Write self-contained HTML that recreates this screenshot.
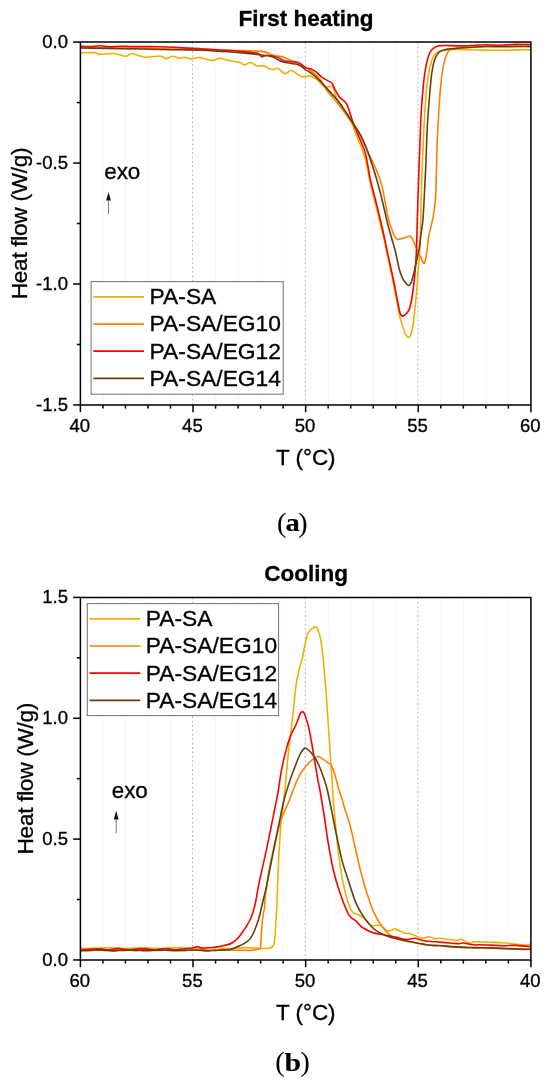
<!DOCTYPE html>
<html lang="en">
<head>
<meta charset="utf-8">
<title>DSC curves</title>
<style>
html,body{margin:0;padding:0;background:#fff;}
body{width:550px;height:1086px;overflow:hidden;}
svg{display:block;}
svg text{stroke:#000;stroke-width:0.32px;}
svg .ser text{stroke-width:0.1px;}
</style>
</head>
<body>
<svg width="550" height="1086" viewBox="0 0 550 1086" font-family="'Liberation Sans', sans-serif" fill="#000">
<rect width="550" height="1086" fill="#fff"/>
<line x1="102.93" y1="42.1" x2="102.93" y2="404.9" stroke="#f5f5f5" stroke-width="1"/>
<line x1="125.45" y1="42.1" x2="125.45" y2="404.9" stroke="#f5f5f5" stroke-width="1"/>
<line x1="147.97" y1="42.1" x2="147.97" y2="404.9" stroke="#f5f5f5" stroke-width="1"/>
<line x1="170.50" y1="42.1" x2="170.50" y2="404.9" stroke="#f5f5f5" stroke-width="1"/>
<line x1="192.62" y1="42.1" x2="192.62" y2="404.9" stroke="#b8b8b8" stroke-width="1" stroke-dasharray="2 2.4"/>
<line x1="215.55" y1="42.1" x2="215.55" y2="404.9" stroke="#f5f5f5" stroke-width="1"/>
<line x1="238.07" y1="42.1" x2="238.07" y2="404.9" stroke="#f5f5f5" stroke-width="1"/>
<line x1="260.60" y1="42.1" x2="260.60" y2="404.9" stroke="#f5f5f5" stroke-width="1"/>
<line x1="283.12" y1="42.1" x2="283.12" y2="404.9" stroke="#f5f5f5" stroke-width="1"/>
<line x1="305.25" y1="42.1" x2="305.25" y2="404.9" stroke="#b8b8b8" stroke-width="1" stroke-dasharray="2 2.4"/>
<line x1="328.17" y1="42.1" x2="328.17" y2="404.9" stroke="#f5f5f5" stroke-width="1"/>
<line x1="350.70" y1="42.1" x2="350.70" y2="404.9" stroke="#f5f5f5" stroke-width="1"/>
<line x1="373.23" y1="42.1" x2="373.23" y2="404.9" stroke="#f5f5f5" stroke-width="1"/>
<line x1="395.75" y1="42.1" x2="395.75" y2="404.9" stroke="#f5f5f5" stroke-width="1"/>
<line x1="417.88" y1="42.1" x2="417.88" y2="404.9" stroke="#b8b8b8" stroke-width="1" stroke-dasharray="2 2.4"/>
<line x1="440.80" y1="42.1" x2="440.80" y2="404.9" stroke="#f5f5f5" stroke-width="1"/>
<line x1="463.32" y1="42.1" x2="463.32" y2="404.9" stroke="#f5f5f5" stroke-width="1"/>
<line x1="485.85" y1="42.1" x2="485.85" y2="404.9" stroke="#f5f5f5" stroke-width="1"/>
<line x1="508.38" y1="42.1" x2="508.38" y2="404.9" stroke="#f5f5f5" stroke-width="1"/>
<clipPath id="ca"><rect x="80.4" y="42.1" width="450.5" height="362.8"/></clipPath>
<g clip-path="url(#ca)" fill="none" stroke-width="1.6" stroke-linejoin="round" stroke-linecap="round">
<path stroke="#F0B000" d="M80.0 52.8C82.4 52.8 91.1 52.5 94.5 52.8C97.9 53.1 97.2 54.4 100.4 54.5C103.6 54.6 109.3 53.2 113.5 53.5C117.7 53.8 122.8 56.3 125.8 56.3C128.8 56.3 128.3 53.4 131.6 53.5C134.9 53.6 140.8 56.8 145.5 57.2C150.2 57.6 156.6 55.8 160.0 56.0C163.4 56.2 163.7 58.6 165.8 58.6C167.9 58.6 170.2 56.4 172.4 56.3C174.6 56.2 177.0 58.1 178.9 58.2C180.8 58.4 181.9 57.1 184.0 57.2C186.1 57.3 188.8 58.9 191.3 58.9C193.9 58.9 195.8 57.2 199.3 57.5C202.8 57.8 209.0 60.3 212.4 60.4C215.8 60.5 216.9 58.2 219.6 58.2C222.3 58.2 225.0 59.7 228.4 60.4C231.8 61.1 237.3 61.7 240.0 62.5C242.7 63.3 242.7 65.0 244.4 65.0C246.1 65.0 248.1 62.4 250.2 62.5C252.2 62.6 254.5 65.3 256.7 65.9C258.9 66.5 260.8 65.3 263.3 65.9C265.9 66.5 269.6 69.1 272.0 69.5C274.4 69.9 275.6 67.7 277.8 68.4C280.0 69.1 282.8 73.4 285.1 73.7C287.4 74.0 288.9 70.0 291.6 70.5C294.3 71.0 298.1 75.5 301.1 76.4C304.1 77.3 307.4 75.8 309.8 76.1C312.2 76.4 314.1 77.7 315.6 78.5C317.1 79.3 317.2 79.7 318.7 81.1C320.2 82.5 322.2 86.0 324.5 86.9C326.8 87.8 330.7 86.1 332.2 86.3C333.7 86.5 333.1 87.2 333.5 88.2C333.9 89.2 334.4 90.9 334.8 92.5C335.2 94.1 335.5 96.1 336.2 97.8C336.9 99.5 337.6 100.4 339.1 102.6C340.6 104.8 343.1 108.2 345.0 111.2C346.9 114.2 348.8 116.3 350.7 120.4C352.6 124.5 354.6 130.6 356.5 135.6C358.4 140.6 360.7 145.3 362.4 150.2C364.1 155.0 365.5 159.7 366.7 164.7C367.9 169.7 368.3 174.2 369.6 180.0C370.9 185.8 372.5 191.6 374.4 199.5C376.3 207.4 379.5 220.9 381.1 227.3C382.7 233.7 382.8 233.4 383.8 238.0C384.8 242.6 386.1 249.2 387.3 255.0C388.6 260.8 389.6 264.9 391.3 273.0C393.0 281.1 395.8 295.7 397.3 303.4C398.8 311.1 399.2 314.5 400.5 319.4C401.8 324.2 403.8 329.7 404.9 332.5C405.9 335.3 406.2 335.2 406.8 336.0C407.4 336.8 407.9 337.5 408.5 337.5C409.1 337.5 409.6 336.8 410.1 336.0C410.6 335.2 410.9 335.0 411.5 332.5C412.1 330.0 412.9 326.1 413.6 320.8C414.3 315.5 415.2 306.8 415.8 300.5C416.4 294.2 416.8 289.1 417.3 283.0C417.8 276.9 418.2 270.9 418.7 264.1C419.2 257.3 419.8 253.0 420.2 242.3C420.6 231.6 420.9 211.1 421.2 200.0C421.5 188.9 421.6 185.2 421.9 176.0C422.2 166.8 422.8 155.1 423.2 145.1C423.6 135.1 424.0 125.7 424.6 116.0C425.2 106.3 426.0 94.9 426.8 86.9C427.6 78.9 428.6 73.1 429.7 68.0C430.8 62.9 432.1 59.1 433.4 56.4C434.7 53.7 435.9 53.0 437.7 52.0C439.5 51.0 441.3 50.7 444.3 50.3C447.3 49.9 451.5 49.5 455.9 49.4C460.3 49.3 465.6 49.7 470.5 49.8C475.4 49.9 480.1 50.0 485.0 50.1C489.9 50.2 495.0 50.3 500.0 50.3C505.0 50.3 509.8 50.0 515.0 49.9C520.2 49.8 528.3 49.8 531.0 49.8"/>
<path stroke="#FF8000" d="M80.0 47.4C86.7 47.5 106.7 47.8 120.0 48.0C133.3 48.2 146.7 48.3 160.0 48.6C173.3 48.9 190.0 49.3 200.0 49.6C210.0 49.9 213.3 50.1 220.0 50.2C226.7 50.4 232.8 50.3 240.0 50.5C247.2 50.7 257.7 50.8 263.3 51.6C268.9 52.4 270.1 54.4 273.5 55.3C276.9 56.2 280.5 56.2 283.6 57.2C286.8 58.2 289.7 59.8 292.4 61.0C295.1 62.2 297.3 63.2 300.0 64.5C302.7 65.8 305.1 66.5 308.4 69.0C311.7 71.5 316.8 75.6 320.0 79.3C323.2 83.0 324.3 87.0 327.5 91.3C330.7 95.6 335.2 100.1 339.1 105.1C343.0 110.1 347.1 115.8 350.7 121.1C354.3 126.4 357.5 130.8 360.9 137.1C364.3 143.4 368.5 153.4 371.1 158.9C373.7 164.4 374.5 165.4 376.3 170.0C378.1 174.6 380.1 178.8 382.0 186.4C383.9 194.0 386.2 209.0 387.7 215.8C389.2 222.6 389.9 223.7 391.0 227.0C392.1 230.3 393.2 233.4 394.3 235.5C395.4 237.6 395.9 239.1 397.5 239.5C399.1 239.9 402.1 238.4 404.1 237.9C406.2 237.4 408.4 236.2 409.8 236.3C411.2 236.4 411.2 236.7 412.3 238.7C413.4 240.7 415.0 245.5 416.4 248.5C417.8 251.5 419.5 254.6 420.5 256.7C421.5 258.8 421.8 260.1 422.4 261.2C423.0 262.3 423.7 264.1 424.3 263.4C424.9 262.7 425.5 259.6 426.0 256.8C426.5 254.0 427.0 250.2 427.5 246.6C428.0 243.0 428.0 239.6 428.9 235.0C429.8 230.4 431.6 224.9 432.7 219.1C433.8 213.3 434.8 206.5 435.4 200.0C436.0 193.5 435.9 188.7 436.2 180.0C436.5 171.3 436.6 158.7 437.0 148.0C437.4 137.3 437.9 126.2 438.5 116.0C439.1 105.8 439.8 95.4 440.6 86.9C441.4 78.4 442.4 70.7 443.5 65.1C444.6 59.5 445.9 56.2 447.2 53.5C448.5 50.8 448.8 50.0 451.5 49.1C454.2 48.2 457.6 48.3 463.2 47.9C468.8 47.5 478.9 46.8 485.0 46.5C491.1 46.2 495.0 46.0 500.0 46.0C505.0 46.0 509.8 46.4 515.0 46.4C520.2 46.4 528.3 46.2 531.0 46.2"/>
<path stroke="#FF0000" d="M80.0 46.1C81.7 46.2 86.7 46.7 90.0 46.6C93.3 46.5 96.7 45.8 100.0 45.8C103.3 45.8 106.7 46.7 110.0 46.8C113.3 46.9 115.8 46.2 120.0 46.2C124.2 46.2 128.3 46.5 135.0 46.6C141.7 46.7 152.5 46.5 160.0 46.7C167.5 46.9 173.3 47.3 180.0 47.6C186.7 47.9 193.3 48.3 200.0 48.7C206.7 49.1 213.3 49.6 220.0 50.0C226.7 50.4 233.8 50.7 240.0 51.3C246.2 51.9 253.9 52.5 257.5 53.4C261.1 54.3 260.1 56.4 261.8 56.7C263.5 57.0 264.9 55.2 267.6 55.3C270.3 55.4 274.9 56.5 277.8 57.5C280.7 58.5 281.6 60.2 285.0 61.0C288.4 61.8 294.8 61.4 298.2 62.5C301.6 63.6 303.3 66.5 305.5 67.6C307.7 68.7 309.6 68.4 311.3 69.1C313.0 69.8 313.8 70.1 315.8 71.6C317.8 73.1 320.4 76.3 323.1 78.2C325.8 80.1 330.0 81.4 331.8 83.0C333.6 84.6 332.8 85.4 334.0 87.6C335.2 89.8 337.0 93.7 339.1 96.4C341.2 99.1 344.5 100.4 346.4 103.6C348.3 106.8 349.5 111.9 350.7 115.3C351.9 118.7 351.9 119.6 353.6 124.0C355.3 128.4 358.9 136.7 360.9 141.5C362.8 146.3 364.1 148.8 365.3 153.1C366.5 157.4 367.4 163.1 368.2 167.6C369.0 172.1 369.2 174.7 370.4 180.0C371.6 185.3 373.4 191.6 375.4 199.5C377.3 207.4 379.9 217.8 382.1 227.3C384.3 236.9 386.4 247.5 388.4 256.8C390.4 266.1 392.6 275.7 394.1 283.0C395.6 290.3 396.4 295.6 397.4 300.5C398.3 305.4 399.2 309.7 399.8 312.1C400.4 314.5 400.6 314.3 401.0 315.0C401.4 315.7 401.8 316.1 402.3 316.2C402.9 316.2 403.6 315.8 404.3 315.3C405.0 314.9 405.6 314.5 406.4 313.5C407.2 312.5 408.4 311.4 409.3 309.2C410.2 307.0 410.8 304.4 411.5 300.5C412.2 296.6 413.0 290.8 413.6 285.9C414.2 281.0 414.6 277.5 415.1 271.4C415.6 265.3 416.1 258.2 416.5 249.5C416.9 240.8 416.9 231.2 417.3 219.0C417.7 206.8 418.3 187.1 418.7 176.0C419.1 164.9 419.2 162.4 419.6 152.4C420.0 142.4 420.4 126.9 421.0 116.0C421.6 105.1 422.5 94.7 423.2 86.9C423.9 79.2 424.5 74.6 425.4 69.5C426.2 64.4 427.2 59.7 428.3 56.4C429.4 53.1 430.4 51.5 431.9 49.8C433.3 48.1 434.9 46.9 437.0 46.2C439.1 45.5 439.9 45.5 444.3 45.5C448.7 45.5 456.4 46.0 463.2 45.9C470.0 45.8 478.9 44.8 485.0 44.7C491.1 44.6 495.0 45.4 500.0 45.3C505.0 45.2 509.8 44.4 515.0 44.3C520.2 44.2 528.3 44.5 531.0 44.6"/>
<path stroke="#64400F" d="M80.0 48.0C86.7 48.1 106.7 48.4 120.0 48.6C133.3 48.9 146.7 49.2 160.0 49.5C173.3 49.8 186.7 49.7 200.0 50.2C213.3 50.7 230.4 51.9 240.0 52.6C249.6 53.3 252.2 53.8 257.5 54.5C262.8 55.2 267.9 55.5 272.0 56.7C276.1 57.9 277.8 60.5 282.2 61.8C286.6 63.1 294.3 63.4 298.2 64.7C302.1 66.0 303.5 68.5 305.5 69.8C307.5 71.1 307.8 70.8 310.0 72.4C312.2 74.0 315.8 76.8 318.7 79.6C321.6 82.4 324.1 85.3 327.5 89.1C330.9 92.9 335.2 97.1 339.1 102.2C343.0 107.3 347.1 114.0 350.7 119.6C354.3 125.2 358.0 130.0 360.9 135.6C363.8 141.2 366.0 147.3 368.2 153.1C370.4 158.9 372.1 164.4 374.0 170.5C375.9 176.6 377.8 183.3 379.5 189.6C381.2 195.8 382.6 202.3 384.0 208.0C385.4 213.7 386.5 219.3 387.7 224.0C388.9 228.7 389.7 231.5 391.0 236.0C392.3 240.5 393.9 245.6 395.3 251.0C396.7 256.4 397.9 263.9 399.1 268.5C400.3 273.1 401.5 276.1 402.7 278.6C403.9 281.1 405.4 282.6 406.4 283.7C407.4 284.8 407.9 285.4 408.5 285.5C409.1 285.6 409.5 285.2 410.0 284.5C410.5 283.8 410.9 283.2 411.5 281.5C412.1 279.8 412.8 277.7 413.6 274.3C414.4 270.9 415.5 265.8 416.5 261.2C417.5 256.6 418.8 251.0 419.5 246.6C420.2 242.2 420.3 239.6 420.9 235.0C421.5 230.4 422.4 226.5 423.0 219.0C423.6 211.5 424.2 197.8 424.6 190.0C425.0 182.2 425.2 178.3 425.5 172.0C425.8 165.7 426.0 160.5 426.3 152.4C426.6 144.3 426.9 133.0 427.5 123.3C428.1 113.6 429.0 102.7 429.7 94.2C430.4 85.7 431.0 78.2 431.9 72.4C432.8 66.6 433.6 62.7 434.8 59.3C436.0 55.9 437.4 53.6 439.2 52.0C441.0 50.4 442.9 50.0 445.7 49.4C448.5 48.8 451.8 48.8 455.9 48.4C460.0 48.0 465.6 47.6 470.5 47.3C475.4 47.0 480.1 46.6 485.0 46.5C489.9 46.4 495.0 46.8 500.0 46.8C505.0 46.8 509.8 46.4 515.0 46.4C520.2 46.4 528.3 46.6 531.0 46.6"/>
</g>
<rect x="91.1" y="281.6" width="192.1" height="112.6" fill="#fff" stroke="#707070" stroke-width="1"/>
<line x1="93.4" y1="296.9" x2="144.1" y2="296.9" stroke="#F0B000" stroke-width="1.7"/>
<text x="149.6" y="304.3" font-size="22.8">PA-SA</text>
<line x1="93.4" y1="324.1" x2="144.1" y2="324.1" stroke="#FF8000" stroke-width="1.7"/>
<text x="149.6" y="331.4" font-size="22.8">PA-SA/EG10</text>
<line x1="93.4" y1="351.2" x2="144.1" y2="351.2" stroke="#FF0000" stroke-width="1.7"/>
<text x="149.6" y="358.6" font-size="22.8">PA-SA/EG12</text>
<line x1="93.4" y1="378.4" x2="144.1" y2="378.4" stroke="#64400F" stroke-width="1.7"/>
<text x="149.6" y="385.8" font-size="22.8">PA-SA/EG14</text>
<path d="M80.4 42.1 H530.9 V404.9 H80.4 Z" fill="none" stroke="#000" stroke-width="1.5"/>
<line x1="80.40" y1="404.9" x2="80.40" y2="412.2" stroke="#000" stroke-width="1.5"/>
<line x1="102.93" y1="404.9" x2="102.93" y2="408.6" stroke="#000" stroke-width="1.5"/>
<line x1="125.45" y1="404.9" x2="125.45" y2="408.6" stroke="#000" stroke-width="1.5"/>
<line x1="147.97" y1="404.9" x2="147.97" y2="408.6" stroke="#000" stroke-width="1.5"/>
<line x1="170.50" y1="404.9" x2="170.50" y2="408.6" stroke="#000" stroke-width="1.5"/>
<line x1="193.03" y1="404.9" x2="193.03" y2="412.2" stroke="#000" stroke-width="1.5"/>
<line x1="215.55" y1="404.9" x2="215.55" y2="408.6" stroke="#000" stroke-width="1.5"/>
<line x1="238.07" y1="404.9" x2="238.07" y2="408.6" stroke="#000" stroke-width="1.5"/>
<line x1="260.60" y1="404.9" x2="260.60" y2="408.6" stroke="#000" stroke-width="1.5"/>
<line x1="283.12" y1="404.9" x2="283.12" y2="408.6" stroke="#000" stroke-width="1.5"/>
<line x1="305.65" y1="404.9" x2="305.65" y2="412.2" stroke="#000" stroke-width="1.5"/>
<line x1="328.17" y1="404.9" x2="328.17" y2="408.6" stroke="#000" stroke-width="1.5"/>
<line x1="350.70" y1="404.9" x2="350.70" y2="408.6" stroke="#000" stroke-width="1.5"/>
<line x1="373.23" y1="404.9" x2="373.23" y2="408.6" stroke="#000" stroke-width="1.5"/>
<line x1="395.75" y1="404.9" x2="395.75" y2="408.6" stroke="#000" stroke-width="1.5"/>
<line x1="418.27" y1="404.9" x2="418.27" y2="412.2" stroke="#000" stroke-width="1.5"/>
<line x1="440.80" y1="404.9" x2="440.80" y2="408.6" stroke="#000" stroke-width="1.5"/>
<line x1="463.32" y1="404.9" x2="463.32" y2="408.6" stroke="#000" stroke-width="1.5"/>
<line x1="485.85" y1="404.9" x2="485.85" y2="408.6" stroke="#000" stroke-width="1.5"/>
<line x1="508.38" y1="404.9" x2="508.38" y2="408.6" stroke="#000" stroke-width="1.5"/>
<line x1="530.90" y1="404.9" x2="530.90" y2="412.2" stroke="#000" stroke-width="1.5"/>
<text x="79.8" y="431.8" font-size="18.5" text-anchor="middle">40</text>
<text x="192.4" y="431.8" font-size="18.5" text-anchor="middle">45</text>
<text x="305.0" y="431.8" font-size="18.5" text-anchor="middle">50</text>
<text x="417.6" y="431.8" font-size="18.5" text-anchor="middle">55</text>
<text x="530.2" y="431.8" font-size="18.5" text-anchor="middle">60</text>
<line x1="73.1" y1="42.10" x2="80.4" y2="42.10" stroke="#000" stroke-width="1.5"/>
<line x1="76.8" y1="102.57" x2="80.4" y2="102.57" stroke="#000" stroke-width="1.5"/>
<line x1="73.1" y1="163.05" x2="80.4" y2="163.05" stroke="#000" stroke-width="1.5"/>
<line x1="76.8" y1="223.52" x2="80.4" y2="223.52" stroke="#000" stroke-width="1.5"/>
<line x1="73.1" y1="284.00" x2="80.4" y2="284.00" stroke="#000" stroke-width="1.5"/>
<line x1="76.8" y1="344.48" x2="80.4" y2="344.48" stroke="#000" stroke-width="1.5"/>
<line x1="73.1" y1="404.95" x2="80.4" y2="404.95" stroke="#000" stroke-width="1.5"/>
<text x="68.0" y="48.1" font-size="18.5" text-anchor="end">0.0</text>
<text x="68.0" y="169.0" font-size="18.5" text-anchor="end">-0.5</text>
<text x="68.0" y="290.0" font-size="18.5" text-anchor="end">-1.0</text>
<text x="68.0" y="410.9" font-size="18.5" text-anchor="end">-1.5</text>
<text x="306.1" y="25.8" font-size="22.5" font-weight="bold" text-anchor="middle">First heating</text>
<text x="305.8" y="465.1" font-size="22.4" text-anchor="middle">T (°C)</text>
<text transform="translate(27.3 223.5) rotate(-90)" font-size="22.7" letter-spacing="-0.32" text-anchor="middle">Heat flow (W/g)</text>
<text x="104.2" y="178.8" font-size="22.4">exo</text>
<line x1="108.5" y1="200.5" x2="108.5" y2="214.0" stroke="#444" stroke-width="0.7"/>
<path d="M108.5 191.9 L106.1 200.5 L110.9 200.5 Z" fill="#111"/>
<line x1="102.93" y1="597.4" x2="102.93" y2="960.0" stroke="#f5f5f5" stroke-width="1"/>
<line x1="125.45" y1="597.4" x2="125.45" y2="960.0" stroke="#f5f5f5" stroke-width="1"/>
<line x1="147.97" y1="597.4" x2="147.97" y2="960.0" stroke="#f5f5f5" stroke-width="1"/>
<line x1="170.50" y1="597.4" x2="170.50" y2="960.0" stroke="#f5f5f5" stroke-width="1"/>
<line x1="192.62" y1="597.4" x2="192.62" y2="960.0" stroke="#b8b8b8" stroke-width="1" stroke-dasharray="2 2.4"/>
<line x1="215.55" y1="597.4" x2="215.55" y2="960.0" stroke="#f5f5f5" stroke-width="1"/>
<line x1="238.07" y1="597.4" x2="238.07" y2="960.0" stroke="#f5f5f5" stroke-width="1"/>
<line x1="260.60" y1="597.4" x2="260.60" y2="960.0" stroke="#f5f5f5" stroke-width="1"/>
<line x1="283.12" y1="597.4" x2="283.12" y2="960.0" stroke="#f5f5f5" stroke-width="1"/>
<line x1="305.25" y1="597.4" x2="305.25" y2="960.0" stroke="#b8b8b8" stroke-width="1" stroke-dasharray="2 2.4"/>
<line x1="328.17" y1="597.4" x2="328.17" y2="960.0" stroke="#f5f5f5" stroke-width="1"/>
<line x1="350.70" y1="597.4" x2="350.70" y2="960.0" stroke="#f5f5f5" stroke-width="1"/>
<line x1="373.23" y1="597.4" x2="373.23" y2="960.0" stroke="#f5f5f5" stroke-width="1"/>
<line x1="395.75" y1="597.4" x2="395.75" y2="960.0" stroke="#f5f5f5" stroke-width="1"/>
<line x1="417.88" y1="597.4" x2="417.88" y2="960.0" stroke="#b8b8b8" stroke-width="1" stroke-dasharray="2 2.4"/>
<line x1="440.80" y1="597.4" x2="440.80" y2="960.0" stroke="#f5f5f5" stroke-width="1"/>
<line x1="463.32" y1="597.4" x2="463.32" y2="960.0" stroke="#f5f5f5" stroke-width="1"/>
<line x1="485.85" y1="597.4" x2="485.85" y2="960.0" stroke="#f5f5f5" stroke-width="1"/>
<line x1="508.38" y1="597.4" x2="508.38" y2="960.0" stroke="#f5f5f5" stroke-width="1"/>
<clipPath id="cb"><rect x="80.4" y="597.4" width="450.5" height="362.6"/></clipPath>
<g clip-path="url(#cb)" fill="none" stroke-width="1.6" stroke-linejoin="round" stroke-linecap="round">
<path stroke="#F0B000" d="M80.4 948.1C81.3 948.2 84.1 948.5 85.9 948.5C87.7 948.5 89.6 948.3 91.4 948.3C93.2 948.3 95.1 948.4 96.9 948.3C98.7 948.2 100.6 947.8 102.4 947.7C104.2 947.6 106.1 947.8 107.9 947.8C109.7 947.8 111.6 947.8 113.4 947.9C115.2 948.0 117.1 948.2 118.9 948.3C120.7 948.4 122.6 948.6 124.4 948.6C126.2 948.6 128.1 948.3 129.9 948.2C131.7 948.1 133.6 948.2 135.4 948.1C137.2 948.0 139.1 947.6 140.9 947.6C142.7 947.6 144.6 947.8 146.4 947.9C148.2 948.0 150.1 948.1 151.9 948.2C153.7 948.3 155.6 948.4 157.4 948.4C159.2 948.4 161.1 948.6 162.9 948.5C164.7 948.4 166.6 948.0 168.4 947.9C170.2 947.8 172.1 947.9 173.9 947.9C175.7 947.9 177.6 947.6 179.4 947.6C181.2 947.6 183.1 948.0 184.9 948.1C186.7 948.2 188.6 948.4 190.4 948.4C192.2 948.4 194.1 948.4 195.9 948.4C197.7 948.4 199.6 948.4 201.4 948.3C203.2 948.2 205.1 947.8 206.9 947.7C208.7 947.6 210.6 947.9 212.4 947.9C214.2 947.9 216.1 947.7 217.9 947.8C219.7 947.9 221.6 948.2 223.4 948.3C225.2 948.4 227.1 948.5 228.9 948.5C230.7 948.5 232.6 948.3 234.4 948.2C236.2 948.1 238.1 948.2 239.9 948.1C241.7 948.0 243.6 947.6 245.4 947.6C247.2 947.6 249.1 947.8 250.9 947.9C252.7 948.0 254.6 948.0 256.4 948.1C258.2 948.2 260.0 948.5 261.9 948.5C263.8 948.5 266.3 948.6 268.0 948.4C269.7 948.1 271.0 947.7 272.0 947.0C273.0 946.3 273.5 945.8 274.0 944.0C274.5 942.2 274.7 940.0 275.0 936.0C275.3 932.0 275.7 925.7 276.0 920.0C276.3 914.3 276.8 907.3 277.0 902.0C277.2 896.7 277.2 896.0 277.5 888.2C277.8 880.5 278.3 865.9 278.9 855.5C279.4 845.1 280.1 834.7 280.8 826.0C281.5 817.3 282.6 809.1 283.3 803.1C284.0 797.1 284.1 797.6 284.9 790.0C285.7 782.4 286.8 767.4 287.9 757.3C288.9 747.2 290.3 737.4 291.2 729.5C292.1 721.6 292.6 717.2 293.4 710.0C294.2 702.8 294.9 693.1 295.9 686.4C296.8 679.7 298.0 674.5 299.1 669.8C300.2 665.1 301.4 662.4 302.3 658.4C303.2 654.4 304.0 649.5 304.8 645.6C305.6 641.7 306.4 637.4 307.4 634.8C308.3 632.1 309.4 630.9 310.5 629.7C311.6 628.5 312.8 628.1 313.7 627.6C314.6 627.1 315.1 626.8 315.6 626.9C316.2 627.0 316.6 627.4 317.0 628.0C317.4 628.6 317.7 628.9 318.2 630.4C318.7 631.9 319.5 633.7 320.1 636.7C320.7 639.7 321.4 643.1 322.0 648.2C322.6 653.3 323.3 660.5 323.9 667.3C324.5 674.1 325.2 681.8 325.8 688.9C326.4 696.0 326.8 702.7 327.3 710.0C327.8 717.3 328.3 724.8 328.8 732.7C329.3 740.6 329.9 749.1 330.5 757.3C331.1 765.5 331.7 774.7 332.1 781.8C332.6 788.9 332.9 795.9 333.2 800.0C333.5 804.1 333.3 801.0 333.8 806.4C334.3 811.8 335.5 824.3 336.3 832.5C337.1 840.7 337.6 847.3 338.7 855.5C339.8 863.7 341.3 874.0 342.8 881.6C344.3 889.2 346.1 896.2 347.7 901.3C349.3 906.3 350.7 909.6 352.6 911.9C354.5 914.2 357.0 914.0 359.2 915.2C361.4 916.4 363.6 917.6 365.7 919.3C367.8 921.0 369.0 924.5 371.5 925.5C374.0 926.5 377.8 924.6 380.5 925.5C383.2 926.4 385.4 930.5 387.8 931.1C390.2 931.7 392.3 928.7 395.2 929.1C398.1 929.5 402.8 932.7 405.2 933.4C407.6 934.1 406.6 932.6 409.5 933.4C412.4 934.2 419.4 937.7 422.6 938.2C425.8 938.8 426.3 936.6 428.5 936.7C430.7 936.8 433.8 938.6 435.7 938.9C437.6 939.1 436.7 938.0 440.1 938.2C443.5 938.5 452.6 940.2 456.1 940.4C459.6 940.6 459.0 938.9 461.2 939.3C463.4 939.7 466.9 942.6 469.2 943.0C471.5 943.4 471.4 941.9 475.0 941.8C478.6 941.7 485.8 942.0 490.5 942.2C495.2 942.4 499.0 942.4 503.2 942.8C507.4 943.1 511.9 943.9 515.9 944.3C519.9 944.7 524.9 945.2 527.4 945.1C529.9 945.0 530.4 943.8 531.0 943.5"/>
<path stroke="#FF8000" d="M80.4 950.2C81.3 950.2 84.1 950.2 85.9 950.1C87.7 950.0 89.6 949.4 91.4 949.4C93.2 949.4 95.1 949.9 96.9 950.0C98.7 950.1 100.6 950.1 102.4 950.2C104.2 950.3 106.1 950.5 107.9 950.4C109.7 950.3 111.6 950.0 113.4 949.9C115.2 949.8 117.1 949.6 118.9 949.6C120.7 949.6 122.6 949.8 124.4 949.9C126.2 950.0 128.1 950.1 129.9 950.2C131.7 950.3 133.6 950.6 135.4 950.5C137.2 950.4 139.1 949.8 140.9 949.7C142.7 949.6 144.6 949.8 146.4 949.8C148.2 949.8 150.1 949.7 151.9 949.8C153.7 949.9 155.6 950.4 157.4 950.5C159.2 950.6 161.1 950.3 162.9 950.2C164.7 950.1 166.6 949.9 168.4 949.8C170.2 949.7 172.1 949.6 173.9 949.6C175.7 949.6 177.6 949.8 179.4 949.9C181.2 950.0 183.1 950.5 184.9 950.5C186.7 950.5 188.6 950.2 190.4 950.1C192.2 950.0 194.1 950.0 195.9 949.9C197.7 949.8 199.6 949.5 201.4 949.5C203.2 949.5 205.1 950.0 206.9 950.1C208.7 950.2 210.6 950.3 212.4 950.3C214.2 950.3 216.1 950.4 217.9 950.3C219.7 950.2 221.6 949.8 223.4 949.7C225.2 949.6 227.1 949.5 228.9 949.6C230.7 949.7 232.6 950.0 234.4 950.1C236.2 950.2 238.1 950.3 239.9 950.3C241.7 950.3 243.7 950.3 245.4 950.3C247.1 950.3 247.7 950.6 250.0 950.4C252.3 950.2 257.2 949.7 259.0 949.0C260.8 948.3 260.2 949.2 260.6 946.0C261.0 942.8 261.2 935.0 261.6 930.0C262.0 925.0 262.5 919.7 263.0 916.0C263.5 912.3 264.1 911.3 264.5 908.0C264.9 904.7 264.5 903.0 265.3 896.4C266.1 889.8 267.9 877.0 269.4 868.5C270.9 860.0 272.7 852.7 274.3 845.6C275.9 838.5 277.8 830.9 279.2 826.0C280.6 821.1 281.1 819.8 282.5 816.2C283.9 812.7 286.2 807.4 287.4 804.7C288.6 802.0 288.3 803.0 289.5 800.0C290.7 797.0 292.9 790.8 294.5 786.7C296.1 782.6 297.5 778.7 299.4 775.3C301.3 771.9 303.7 768.9 305.9 766.3C308.1 763.7 310.6 761.3 312.5 759.7C314.4 758.1 315.9 756.8 317.4 756.5C318.9 756.2 319.9 757.1 321.5 758.1C323.1 759.1 325.6 761.0 327.2 762.2C328.8 763.4 330.1 763.6 331.3 765.5C332.5 767.4 333.3 769.8 334.5 773.6C335.7 777.4 337.3 784.0 338.6 788.4C339.9 792.8 341.3 796.7 342.3 800.0C343.3 803.3 343.2 803.7 344.5 808.0C345.8 812.3 348.4 819.5 350.2 826.0C352.0 832.5 353.3 839.7 355.1 847.3C356.9 854.9 358.8 863.9 360.8 871.8C362.9 879.7 365.2 887.9 367.4 894.7C369.6 901.5 371.7 907.8 373.9 912.7C376.1 917.6 378.1 920.7 380.5 924.2C382.9 927.8 385.9 931.5 388.6 934.0C391.3 936.5 394.1 937.8 396.8 938.9C399.5 940.0 402.9 940.4 405.0 940.9C407.1 941.4 405.6 941.1 409.5 941.8C413.4 942.5 423.6 944.6 428.5 945.3C433.4 946.0 434.0 945.5 438.6 945.8C443.2 946.1 450.0 946.9 456.1 947.2C462.2 947.6 469.3 947.7 475.0 947.9C480.7 948.1 483.7 948.0 490.5 948.2C497.3 948.4 509.1 949.0 515.9 949.2C522.6 949.4 528.5 949.5 531.0 949.5"/>
<path stroke="#FF0000" d="M80.4 949.7C81.3 949.7 84.1 949.6 85.9 949.5C87.7 949.4 89.6 949.1 91.4 949.0C93.2 948.9 95.1 948.8 96.9 948.8C98.7 948.8 100.6 948.9 102.4 949.1C104.2 949.3 106.1 949.9 107.9 949.9C109.7 949.9 111.6 949.5 113.4 949.2C115.2 949.0 117.1 948.4 118.9 948.4C120.7 948.4 122.6 949.2 124.4 949.4C126.2 949.6 128.1 949.8 129.9 949.8C131.7 949.8 133.6 949.2 135.4 949.1C137.2 949.0 139.1 948.9 140.9 948.9C142.7 948.9 144.6 948.8 146.4 948.9C148.2 949.0 150.1 949.6 151.9 949.7C153.7 949.8 155.6 949.9 157.4 949.7C159.2 949.5 161.1 948.6 162.9 948.5C164.7 948.4 166.6 948.7 168.4 948.9C170.2 949.1 172.1 949.8 173.9 949.9C175.7 950.0 177.6 949.6 179.4 949.4C181.2 949.2 183.8 949.0 184.9 948.9C186.0 948.8 184.8 948.8 186.0 948.6C187.2 948.5 190.0 948.3 192.0 948.0C194.0 947.7 196.3 946.6 198.0 946.6C199.7 946.6 199.0 947.9 202.0 948.0C205.0 948.1 212.0 947.5 216.0 947.0C220.0 946.5 223.3 945.7 226.0 945.0C228.7 944.3 230.0 944.2 232.0 943.0C234.0 941.8 236.0 940.2 238.0 938.0C240.0 935.8 242.0 933.0 244.0 930.0C246.0 927.0 248.5 923.0 250.0 920.0C251.5 917.0 252.1 915.0 253.0 912.0C253.9 909.0 254.7 906.5 255.6 902.0C256.6 897.5 257.2 892.1 258.7 884.9C260.2 877.7 262.4 868.2 264.5 858.7C266.6 849.2 269.1 836.9 271.0 827.6C272.9 818.3 274.7 809.4 275.9 803.1C277.1 796.8 277.5 795.5 278.4 790.0C279.3 784.5 280.1 777.2 281.4 770.4C282.7 763.6 284.7 755.1 286.3 749.1C287.9 743.1 289.6 738.5 291.2 734.4C292.8 730.3 294.6 727.9 296.1 724.5C297.6 721.1 299.3 715.9 300.2 713.9C301.1 711.9 300.9 712.6 301.3 712.2C301.7 711.8 301.9 711.5 302.3 711.5C302.7 711.5 303.1 711.8 303.6 712.5C304.1 713.2 304.3 713.2 305.1 715.5C305.9 717.8 307.3 721.7 308.4 726.2C309.5 730.7 310.5 736.5 311.6 742.5C312.7 748.5 313.8 755.7 314.9 762.2C316.0 768.8 317.4 777.2 318.2 781.8C319.0 786.4 318.9 784.5 319.9 790.0C320.9 795.5 322.6 805.8 324.0 814.5C325.4 823.2 326.6 833.4 328.1 842.4C329.6 851.4 331.1 860.3 333.0 868.5C334.9 876.7 336.9 883.9 339.5 891.5C342.1 899.1 345.8 909.5 348.5 914.4C351.2 919.3 353.6 918.7 355.9 920.9C358.2 923.1 359.8 925.6 362.5 927.5C365.2 929.4 368.8 931.2 372.3 932.4C375.8 933.6 379.6 934.0 383.7 934.8C387.8 935.6 393.1 936.5 396.8 937.3C400.5 938.1 402.9 939.5 405.9 939.6C408.9 939.8 411.6 938.0 414.6 938.2C417.6 938.4 420.6 940.1 424.1 940.7C427.6 941.3 431.3 941.4 435.7 941.8C440.1 942.2 446.4 942.7 450.3 943.0C454.2 943.3 456.9 943.7 459.0 943.7C461.1 943.7 459.9 942.8 462.6 943.0C465.3 943.2 472.5 944.7 475.0 945.0C477.5 945.3 475.1 944.7 477.7 944.7C480.3 944.7 486.2 944.9 490.5 945.1C494.8 945.3 499.0 945.7 503.2 945.7C507.4 945.8 511.3 945.2 515.9 945.4C520.5 945.6 528.5 946.6 531.0 946.9"/>
<path stroke="#64400F" d="M80.4 950.8C81.3 950.8 84.1 950.6 85.9 950.6C87.7 950.6 89.6 950.6 91.4 950.5C93.2 950.4 95.1 949.9 96.9 949.9C98.7 949.9 100.6 950.2 102.4 950.3C104.2 950.4 106.1 950.3 107.9 950.4C109.7 950.5 111.6 950.9 113.4 950.9C115.2 950.9 117.1 950.6 118.9 950.5C120.7 950.4 122.6 950.5 124.4 950.4C126.2 950.3 128.1 949.9 129.9 949.9C131.7 949.9 133.6 950.3 135.4 950.4C137.2 950.5 139.1 950.4 140.9 950.5C142.7 950.6 144.6 950.8 146.4 950.8C148.2 950.8 150.1 950.5 151.9 950.4C153.7 950.3 155.6 950.2 157.4 950.2C159.2 950.2 161.1 950.1 162.9 950.1C164.7 950.1 166.6 950.3 168.4 950.4C170.2 950.5 172.1 950.7 173.9 950.7C175.7 950.7 177.6 950.7 179.4 950.6C181.2 950.5 183.1 950.5 184.9 950.4C186.7 950.3 188.6 950.0 190.4 950.0C192.2 950.0 194.1 950.1 195.9 950.2C197.7 950.3 199.6 950.3 201.4 950.4C203.2 950.5 205.1 950.9 206.9 950.9C208.7 950.9 210.6 950.6 212.4 950.5C214.2 950.4 216.1 950.4 217.9 950.3C219.7 950.2 221.4 950.0 223.4 949.9C225.4 949.8 227.6 950.2 230.0 949.6C232.4 949.0 235.7 947.4 238.0 946.4C240.3 945.4 242.2 944.7 244.0 943.6C245.8 942.5 247.5 941.6 249.0 940.0C250.5 938.4 251.7 936.7 253.0 934.0C254.3 931.3 255.8 927.3 257.0 924.0C258.2 920.7 259.1 917.5 260.0 914.0C260.9 910.5 261.5 907.3 262.5 903.0C263.5 898.7 264.4 896.1 266.1 888.2C267.8 880.3 270.4 866.4 272.6 855.5C274.8 844.6 277.3 832.0 279.2 822.7C281.1 813.4 282.4 806.6 284.1 799.8C285.8 793.0 287.5 787.8 289.5 781.8C291.5 775.8 294.3 768.4 296.1 763.8C297.9 759.2 299.0 756.5 300.2 754.0C301.4 751.5 302.6 750.1 303.5 749.1C304.4 748.1 304.8 747.9 305.9 748.3C307.0 748.7 308.6 750.1 310.0 751.5C311.4 752.9 312.6 754.2 314.1 756.5C315.6 758.8 317.4 761.8 319.0 765.5C320.6 769.2 322.5 774.4 323.9 778.5C325.3 782.6 326.1 784.8 327.3 790.0C328.6 795.2 329.9 802.2 331.4 809.6C332.9 817.0 334.5 825.7 336.3 834.2C338.1 842.7 340.1 853.0 342.0 860.4C343.9 867.8 345.4 871.3 347.7 878.4C350.0 885.5 353.2 896.4 355.9 902.9C358.6 909.4 361.4 913.5 364.1 917.6C366.8 921.7 369.6 924.9 372.3 927.5C375.0 930.1 377.5 931.6 380.5 933.2C383.5 934.8 386.2 936.1 390.3 937.3C394.4 938.5 401.8 939.8 405.0 940.5C408.2 941.2 405.6 940.8 409.5 941.5C413.4 942.2 423.6 944.3 428.5 945.0C433.4 945.7 434.0 945.2 438.6 945.5C443.2 945.8 450.0 946.5 456.1 946.9C462.2 947.2 469.3 947.4 475.0 947.6C480.7 947.8 483.7 947.7 490.5 947.9C497.3 948.1 509.1 948.7 515.9 948.9C522.6 949.1 528.5 949.2 531.0 949.2"/>
</g>
<rect x="87.3" y="603.6" width="191.3" height="112.0" fill="#fff" stroke="#707070" stroke-width="1"/>
<line x1="89.6" y1="618.9" x2="140.3" y2="618.9" stroke="#F0B000" stroke-width="1.7"/>
<text x="145.8" y="626.3" font-size="22.8">PA-SA</text>
<line x1="89.6" y1="646.0" x2="140.3" y2="646.0" stroke="#FF8000" stroke-width="1.7"/>
<text x="145.8" y="653.4" font-size="22.8">PA-SA/EG10</text>
<line x1="89.6" y1="673.2" x2="140.3" y2="673.2" stroke="#FF0000" stroke-width="1.7"/>
<text x="145.8" y="680.6" font-size="22.8">PA-SA/EG12</text>
<line x1="89.6" y1="700.3" x2="140.3" y2="700.3" stroke="#64400F" stroke-width="1.7"/>
<text x="145.8" y="707.7" font-size="22.8">PA-SA/EG14</text>
<path d="M80.4 597.4 H530.9 V960.0 H80.4 Z" fill="none" stroke="#000" stroke-width="1.5"/>
<line x1="80.40" y1="960.0" x2="80.40" y2="967.2" stroke="#000" stroke-width="1.5"/>
<line x1="102.93" y1="960.0" x2="102.93" y2="963.6" stroke="#000" stroke-width="1.5"/>
<line x1="125.45" y1="960.0" x2="125.45" y2="963.6" stroke="#000" stroke-width="1.5"/>
<line x1="147.97" y1="960.0" x2="147.97" y2="963.6" stroke="#000" stroke-width="1.5"/>
<line x1="170.50" y1="960.0" x2="170.50" y2="963.6" stroke="#000" stroke-width="1.5"/>
<line x1="193.03" y1="960.0" x2="193.03" y2="967.2" stroke="#000" stroke-width="1.5"/>
<line x1="215.55" y1="960.0" x2="215.55" y2="963.6" stroke="#000" stroke-width="1.5"/>
<line x1="238.07" y1="960.0" x2="238.07" y2="963.6" stroke="#000" stroke-width="1.5"/>
<line x1="260.60" y1="960.0" x2="260.60" y2="963.6" stroke="#000" stroke-width="1.5"/>
<line x1="283.12" y1="960.0" x2="283.12" y2="963.6" stroke="#000" stroke-width="1.5"/>
<line x1="305.65" y1="960.0" x2="305.65" y2="967.2" stroke="#000" stroke-width="1.5"/>
<line x1="328.17" y1="960.0" x2="328.17" y2="963.6" stroke="#000" stroke-width="1.5"/>
<line x1="350.70" y1="960.0" x2="350.70" y2="963.6" stroke="#000" stroke-width="1.5"/>
<line x1="373.23" y1="960.0" x2="373.23" y2="963.6" stroke="#000" stroke-width="1.5"/>
<line x1="395.75" y1="960.0" x2="395.75" y2="963.6" stroke="#000" stroke-width="1.5"/>
<line x1="418.27" y1="960.0" x2="418.27" y2="967.2" stroke="#000" stroke-width="1.5"/>
<line x1="440.80" y1="960.0" x2="440.80" y2="963.6" stroke="#000" stroke-width="1.5"/>
<line x1="463.32" y1="960.0" x2="463.32" y2="963.6" stroke="#000" stroke-width="1.5"/>
<line x1="485.85" y1="960.0" x2="485.85" y2="963.6" stroke="#000" stroke-width="1.5"/>
<line x1="508.38" y1="960.0" x2="508.38" y2="963.6" stroke="#000" stroke-width="1.5"/>
<line x1="530.90" y1="960.0" x2="530.90" y2="967.2" stroke="#000" stroke-width="1.5"/>
<text x="79.8" y="986.9" font-size="18.5" text-anchor="middle">60</text>
<text x="192.4" y="986.9" font-size="18.5" text-anchor="middle">55</text>
<text x="305.0" y="986.9" font-size="18.5" text-anchor="middle">50</text>
<text x="417.6" y="986.9" font-size="18.5" text-anchor="middle">45</text>
<text x="530.2" y="986.9" font-size="18.5" text-anchor="middle">40</text>
<line x1="73.1" y1="597.40" x2="80.4" y2="597.40" stroke="#000" stroke-width="1.5"/>
<line x1="76.8" y1="657.83" x2="80.4" y2="657.83" stroke="#000" stroke-width="1.5"/>
<line x1="73.1" y1="718.25" x2="80.4" y2="718.25" stroke="#000" stroke-width="1.5"/>
<line x1="76.8" y1="778.67" x2="80.4" y2="778.67" stroke="#000" stroke-width="1.5"/>
<line x1="73.1" y1="839.10" x2="80.4" y2="839.10" stroke="#000" stroke-width="1.5"/>
<line x1="76.8" y1="899.53" x2="80.4" y2="899.53" stroke="#000" stroke-width="1.5"/>
<line x1="73.1" y1="959.95" x2="80.4" y2="959.95" stroke="#000" stroke-width="1.5"/>
<text x="68.0" y="603.4" font-size="18.5" text-anchor="end">1.5</text>
<text x="68.0" y="724.2" font-size="18.5" text-anchor="end">1.0</text>
<text x="68.0" y="845.1" font-size="18.5" text-anchor="end">0.5</text>
<text x="68.0" y="966.0" font-size="18.5" text-anchor="end">0.0</text>
<text x="306.1" y="581.1" font-size="22.5" font-weight="bold" text-anchor="middle">Cooling</text>
<text x="305.8" y="1020.1" font-size="22.4" text-anchor="middle">T (°C)</text>
<text transform="translate(32.6 778.7) rotate(-90)" font-size="22.7" letter-spacing="-0.32" text-anchor="middle">Heat flow (W/g)</text>
<text x="111.7" y="797.6" font-size="22.4">exo</text>
<line x1="116.2" y1="819.5" x2="116.2" y2="833.3" stroke="#444" stroke-width="0.7"/>
<path d="M116.2 810.7 L113.8 819.5 L118.6 819.5 Z" fill="#111"/>
<g class="ser" font-family="'Liberation Serif', serif">
<text x="276.9" y="531.6" font-size="28">(</text>
<text transform="translate(285.4 530.8) scale(1.10 1)" font-size="26" font-weight="bold">a</text>
<text x="307.7" y="531.6" font-size="28" text-anchor="end">)</text>
<text x="275.3" y="1071.4" font-size="28">(</text>
<text transform="translate(284.4 1070.6) scale(1.15 1)" font-size="26" font-weight="bold">b</text>
<text x="309.9" y="1071.4" font-size="28" text-anchor="end">)</text>
</g>
</svg>
</body>
</html>
